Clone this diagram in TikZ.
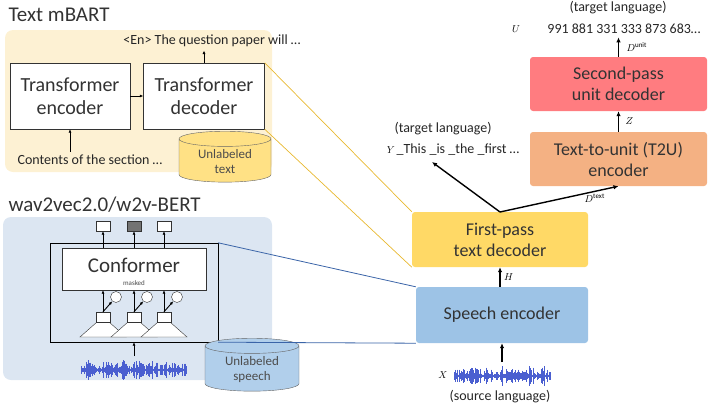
\documentclass[tikz,border=0pt]{standalone}
\usepackage{fontspec}
\setmainfont{Carlito}
\usetikzlibrary{positioning,shapes.geometric,arrows.meta}
\definecolor{mbartbg}{HTML}{FDF1D3}
\definecolor{w2vbg}{HTML}{DCE6F2}
\definecolor{fpass}{HTML}{FFD966}
\definecolor{spenc}{HTML}{9DC3E6}
\definecolor{ttou}{HTML}{F4B183}
\definecolor{spass}{HTML}{FF7C80}
\definecolor{wave}{HTML}{4A5FD0}
\definecolor{ylink}{HTML}{E8B830}
\definecolor{blink}{HTML}{3A64A8}
\tikzset{
  blk/.style={draw=none,rounded corners=3pt,text=black!80,align=center,font=\fontsize{18}{21}\selectfont},
  wbox/.style={draw=black!80,fill=white,align=center,text=black!80},
  db/.style={cylinder,shape border rotate=90,aspect=0.25,draw=black!60,minimum width=92pt,minimum height=44pt,align=center,font=\fontsize{13}{15}\selectfont,text=black!70},
  arr/.style={-{Latex[length=5pt,width=4.5pt]},line width=1.4pt},
  sarr/.style={-{Latex[length=3.5pt,width=3pt]},line width=0.9pt},
  lbl/.style={font=\fontsize{14}{16}\selectfont,text=black!85},
  msym/.style={font=\normalsize},
}
\begin{document}
\begin{tikzpicture}[x=1pt,y=-1pt]
\useasboundingbox (0,0) rectangle (711,407);

% text mBART
\node[anchor=west,font=\fontsize{21}{23}\selectfont,text=black!80] (mbart) at (5,15) {Text mBART};
\fill[mbartbg,rounded corners=8pt] (5,30) rectangle (272,172);
\node[wbox,font=\fontsize{20}{23}\selectfont,minimum width=120pt,minimum height=66pt] (tenc) at (70,96) {Transformer\\encoder};
\node[wbox,font=\fontsize{20}{23}\selectfont,minimum width=121pt,minimum height=66pt] (tdec) at (204,96) {Transformer\\decoder};
\node[lbl] (tout) at (212,41) {<En> The question paper will …};
\node[lbl] (tin) at (90,160) {Contents of the section …};
\node[db,fill=fpass!80] (utext) at (225,162) {Unlabeled\\text};
\draw[sarr] (tenc) -- (tdec);
\draw[sarr] (tdec.north) -- (tout.south -| tdec.north);
\draw[sarr] (tin.north -| tenc.south) -- (tenc.south);

% wav2vec
\node[anchor=west,font=\fontsize{21}{23}\selectfont,text=black!80] (w2v) at (5,205) {wav2vec2.0/w2v-BERT};
\fill[w2vbg,rounded corners=8pt] (3,217) rectangle (272,380);
\node[draw=black,minimum width=168pt,minimum height=99pt] (frame) at (134,292.5) {};
\node[wbox,minimum width=144pt,minimum height=42pt,inner sep=0pt] (conf) at (134,269) {};
\node[font=\fontsize{21}{23}\selectfont,text=black!80] (conft) at (134,265) {Conformer};
\node[font=\fontsize{7}{8}\selectfont,text=black!70] (mask) at (134,283) {masked};
\foreach \i/\x in {1/103,2/134,3/164}{
  \fill[white,draw=black!80] (\x-23,337) -- (\x+23,337) -- (\x+6,322) -- (\x-6,322) -- cycle;
  \node[wbox,minimum width=14pt,minimum height=10pt,inner sep=0pt] (cnn\i) at (\x,317) {};
  \node[draw=black!80,fill=white,circle,minimum size=11pt,inner sep=0pt] (q\i) at (\x+13,297) {};
  \draw[sarr] (cnn\i.north) -- (cnn\i.north |- conf.south);
  \draw[sarr] (cnn\i.north) -- (q\i);
  \node[wbox,minimum width=14pt,minimum height=10pt,inner sep=0pt] (out\i) at (\x,226) {};
  \draw[sarr] (out\i.south |- conf.north) -- (out\i.south);
}
\fill[black!55,draw=black!80] (out2.south west) rectangle (out2.north east);
\coordinate (wsrc) at (134,356);
\draw[sarr] (wsrc) -- (frame.south);
\pgfmathsetseed{7}
\foreach \k in {0,...,105}{
  \pgfmathsetmacro{\h}{1+9*rnd*(0.4+0.6*abs(sin(\k*11)))}
  \draw[wave,line width=0.9pt] (81+\k,370-\h) -- (81+\k,370+\h);
}
\node[db,fill=spenc!80,minimum width=94pt,minimum height=50pt] (uspeech) at (252,370) {Unlabeled\\speech};

% main pipeline
\node[blk,fill=spenc,minimum width=172pt,minimum height=56pt] (senc) at (502,315) {Speech encoder};
\node[blk,fill=fpass,minimum width=176pt,minimum height=55pt] (fdec) at (500,239.5) {First-pass\\text decoder};
\node[blk,fill=ttou,minimum width=177pt,minimum height=54pt] (t2u) at (618.5,159) {Text-to-unit (T2U)\\encoder};
\node[blk,fill=spass,minimum width=177pt,minimum height=54pt] (sdec) at (618.5,84) {Second-pass\\unit decoder};

\draw[ylink,line width=0.7pt] (tdec.north east) -- (fdec.north west);
\draw[ylink,line width=0.7pt] (tdec.south east) -- (fdec.south west);
\draw[blink,line width=0.8pt] (frame.north east) -- (senc.north west);
\draw[blink,line width=0.8pt] (frame.south east) -- (senc.south west);

\draw[arr] (senc.north -| fdec.south) -- node[right,msym] {$H$} (fdec.south);
\draw[arr] (t2u) -- node[right,msym,xshift=3pt] {$Z$} (sdec);
\node[lbl] (ytxt) at (458,150) {\_This \_is \_the \_first …};
\node[msym] (ysym) at (391,150) {$Y$};
\node[lbl] (ytl) at (443,129) {(target language)};
\coordinate (ytip) at (432,162);
\coordinate (fsrc) at (500,212);
\draw[arr] (fsrc) -- (ytip);
\draw[arr] (fsrc) -- (t2u.south) node[pos=0.85,below,msym,xshift=-6pt] {$D^{\mathrm{text}}$};
\node[lbl] (utxt) at (624,29) {991 881 331 333 873 683…};
\node[msym] (usym) at (516,29) {$U$};
\node[lbl] (utl) at (618,8) {(target language)};
\draw[arr] (sdec.north) -- node[right,msym,xshift=4pt] {$D^{\mathrm{unit}}$} (sdec.north |- utxt.south);

% source
\pgfmathsetseed{11}
\foreach \k in {0,...,96}{
  \pgfmathsetmacro{\h}{1+10*rnd*(0.4+0.6*abs(sin(\k*13)))}
  \draw[wave,line width=0.9pt] (454+\k,376-\h) -- (454+\k,376+\h);
}
\coordinate (xsrc) at (502,362);
\draw[arr] (xsrc) -- (senc.south);
\node[msym] (xsym) at (443,375) {$X$};
\node[lbl] (stl) at (500,397) {(source language)};
\end{tikzpicture}
\end{document}
